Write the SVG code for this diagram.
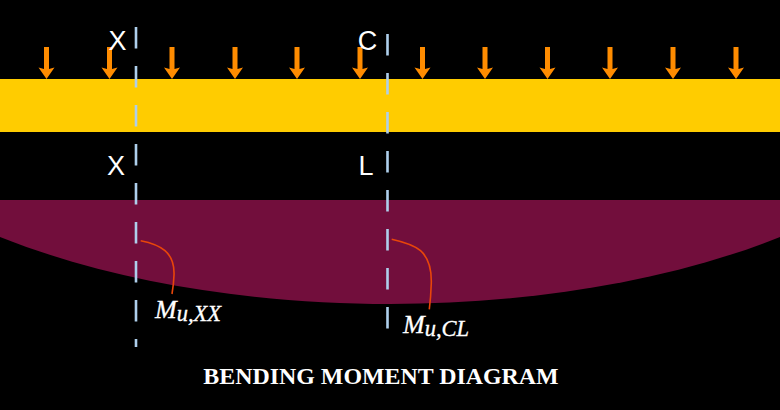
<svg xmlns="http://www.w3.org/2000/svg" width="780" height="410" viewBox="0 0 780 410">
<style>
.lab{font-family:"Liberation Sans",Arial,sans-serif;font-size:27px;fill:#fff}
.m{font-family:"Liberation Serif","Times New Roman",serif;font-style:italic;fill:#fff;stroke:#fff;stroke-width:.3}
.ttl{font-family:"Liberation Serif","Times New Roman",serif;font-weight:bold;font-size:23.900px;fill:#fff}
.cl{stroke:#aecfec;stroke-width:2.600;stroke-dasharray:21.500 17.500;fill:none}
.lead{stroke:#e8460a;stroke-width:1.600;fill:none}
.ar{fill:#ff8c00}
</style>
<defs>
<path id="a" class="ar" d="M-2.500 47H2.500V69L8 67.500L0 79L-8 67.500L-2.500 69Z"/>
</defs>
<rect width="780" height="410" fill="#000"/>
<g id="beam"><rect x="0" y="79" width="780" height="53" fill="#fc0"/></g>
<g id="loads">
<use href="#a" x="46.500"/><use href="#a" x="109.500"/><use href="#a" x="172"/><use href="#a" x="235"/><use href="#a" x="297"/><use href="#a" x="360"/><use href="#a" x="422.500"/><use href="#a" x="485"/><use href="#a" x="547.500"/><use href="#a" x="610"/><use href="#a" x="673"/><use href="#a" x="736"/>
</g>
<g id="moment"><path d="M0 200H780V237C662 284 520 304 390 304C260 304 118 284 0 237Z" fill="#720e3c"/></g>
<g id="connectors">
<path class="cl" d="M136 27V347"/>
<path class="cl" d="M387.500 34V330"/>
<path class="lead" d="M140.700 240.700C160 244.500 175 252 174 275C173.800 282 173 288 172 294"/>
<path class="lead" d="M391.700 239.300C415 244.500 432 250 431.300 283C431 292 430.500 300 429.300 309.300"/>
</g>
<g id="labels">
<text class="lab" x="117.500" y="50" text-anchor="middle">X</text>
<text class="lab" x="367.500" y="50" text-anchor="middle">C</text>
<text class="lab" x="116" y="175" text-anchor="middle">X</text>
<text class="lab" x="366" y="175" text-anchor="middle">L</text>
<text class="m" x="155" y="318" font-size="26">M<tspan font-size="22.500" dy="3">u,XX</tspan></text>
<text class="m" x="403" y="333" font-size="26">M<tspan font-size="22.500" dy="3">u,CL</tspan></text>
<text class="ttl" x="381" y="384" text-anchor="middle">BENDING MOMENT DIAGRAM</text>
</g>
</svg>
